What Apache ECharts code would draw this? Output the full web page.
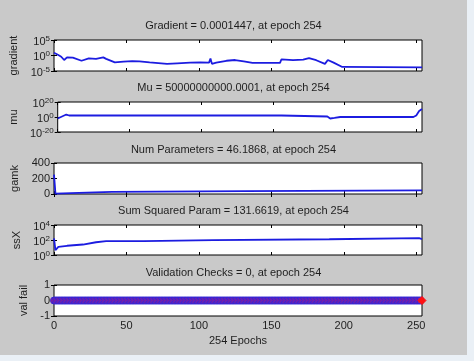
<!DOCTYPE html>
<html><head><meta charset="utf-8">
<script src="https://cdn.jsdelivr.net/npm/echarts@6/dist/echarts.min.js"></script>
<style>html,body{margin:0;padding:0;background:#eaf0f6;}#c{width:467px;height:355px;}</style>
</head><body><div id="c"></div>
<script>
// ---------- data ----------
const titles = [
  'Gradient = 0.0001447, at epoch 254',
  'Mu = 50000000000.0001, at epoch 254',
  'Num Parameters = 46.1868, at epoch 254',
  'Sum Squared Param = 131.6619, at epoch 254',
  'Validation Checks = 0, at epoch 254'
];
const yNames = ['gradient', 'mu', 'gamk', 'ssX', 'val fail'];
const xName = '254 Epochs';
const xTickValues = [0, 50, 100, 150, 200, 250];
const gradTicks = [1e-5, 1, 1e5];
const muTicks = [1e-20, 1, 1e20];
const gamkTicks = [0, 200, 400];
const ssxTicks = [1, 100, 1e4];
const valTicks = [-1, 0, 1];

const gradEpochs = [0,3,5,7,9,13,19,24,29,34,36,42,48,54,59,66,78,85,94,101,107,108,109,112,119,125,131,137,147,156,157,158,165,172,176,181,187,189,193,199,254];
const gradValues = [8,1.4,0.4,0.035,0.25,0.2,0.02,0.12,0.08,0.25,0.08,0.006,0.01,0.015,0.012,0.006,0.002,0.003,0.005,0.006,0.005,0.1,0.002,0.005,0.02,0.035,0.012,0.004,0.004,0.004,0.06,0.02,0.03,0.05,0.15,0.03,0.002,0.035,0.005,0.0002,0.0001447];

const muEpochs = [0,3,6,8,40,41,43,107,108,110,156,157,188,190,193,197,248,249,250,252,254];
const muValues = [0.01,5,2000,100,100,5,100,100,5,100,100,5,5,0.01,0.05,1,1,0.01,100,1e8,5e10];

const gamkEpochs = [0,1,2,17,18,40,41,132,133,254];
const gamkValues = [250,5,15,15,28,28,38,38,46,46.1868];

const ssxEpochs = [0,1,3,9,20,29,36,62,63,110,111,190,191,252,254];
const ssxValues = [160,4.5,12,17,25,50,70,70,95,95,125,125,175,175,131.6619];

const valFail = [
0,0,0,0,0,0,0,0,0,0, 0,0,0,0,0,0,0,0,0,0, 0,0,0,0,0,0,0,0,0,0, 0,0,0,0,0,0,0,0,0,0, 0,0,0,0,0,0,0,0,0,0,
0,0,0,0,0,0,0,0,0,0, 0,0,0,0,0,0,0,0,0,0, 0,0,0,0,0,0,0,0,0,0, 0,0,0,0,0,0,0,0,0,0, 0,0,0,0,0,0,0,0,0,0,
0,0,0,0,0,0,0,0,0,0, 0,0,0,0,0,0,0,0,0,0, 0,0,0,0,0,0,0,0,0,0, 0,0,0,0,0,0,0,0,0,0, 0,0,0,0,0,0,0,0,0,0,
0,0,0,0,0,0,0,0,0,0, 0,0,0,0,0,0,0,0,0,0, 0,0,0,0,0,0,0,0,0,0, 0,0,0,0,0,0,0,0,0,0, 0,0,0,0,0,0,0,0,0,0,
0,0,0,0,0,0,0,0,0,0, 0,0,0,0,0,0,0,0,0,0, 0,0,0,0,0,0,0,0,0,0, 0,0,0,0,0,0,0,0,0,0, 0,0,0,0,0,0,0,0,0,0,
0,0,0,0,0
];

// ---------- layout / style ----------
const FONT = '"Liberation Sans", Arial, sans-serif';
const TXT = '#1e1e1e';
const BLUE = '#1c1ce0';
const layout = [
  {top: 40, h: 31, titleY: 27, nameGap: 27},
  {top: 102, h: 30, titleY: 89, nameGap: 33},
  {top: 163, h: 31, titleY: 151, nameGap: 27},
  {top: 225, h: 30, titleY: 212, nameGap: 26},
  {top: 285, h: 31, titleY: 274, nameGap: 18}
];
const yScales = [
  {type: 'log', min: 1e-5, max: 1e5, ticks: gradTicks},
  {type: 'log', min: 1e-20, max: 1e20, ticks: muTicks},
  {type: 'value', min: 0, max: 400, ticks: gamkTicks},
  {type: 'log', min: 1, max: 1e4, ticks: ssxTicks},
  {type: 'value', min: -1, max: 1, ticks: valTicks}
];

const rich = {
  b: {fontSize: 11, lineHeight: 11, fontFamily: FONT, color: TXT, padding: [3, 0, 0, 0]},
  s: {fontSize: 8, lineHeight: 8, fontFamily: FONT, color: TXT, verticalAlign: 'top'}
};
function logLabel(v) {
  const e = Math.round(Math.log10(v));
  return '{b|10}{s|' + e + '}';
}
// keep log-axis edge ticks just inside the extent (floating point rounding)
function safeTicks(S) {
  if (S.type !== 'log') return S.ticks;
  return S.ticks.map(v => v === S.min ? v * 1.002 : (v === S.max ? v / 1.002 : v));
}

const grids = [], xAxes = [], yAxes = [], titleList = [];
layout.forEach((L, i) => {
  grids.push({left: 54, top: L.top, width: 368, height: L.h, show: true,
    backgroundColor: '#ffffff', borderColor: '#000', borderWidth: 1});
  const isBottom = i === 4;
  const xtick = {show: true, inside: true, length: 3, lineStyle: {color: '#000', width: 1},
    customValues: xTickValues};
  const xBase = {type: 'value', gridIndex: i, min: 0, max: 254,
    axisLine: {show: false}, splitLine: {show: false}, axisTick: xtick};
  xAxes.push(Object.assign({}, xBase, {position: 'bottom',
    axisLabel: {show: isBottom, margin: 4, fontSize: 11, color: TXT, fontFamily: FONT,
      customValues: xTickValues},
    name: isBottom ? xName : '', nameLocation: 'middle', nameGap: 19,
    nameTextStyle: {fontSize: 11, color: TXT, fontFamily: FONT}}));
  xAxes.push(Object.assign({}, xBase, {position: 'top', axisLabel: {show: false}}));
  const S = yScales[i];
  const tv = safeTicks(S);
  const ytick = {show: true, inside: true, length: 3, lineStyle: {color: '#000', width: 1},
    customValues: tv};
  const yBase = {type: S.type, min: S.min, max: S.max, gridIndex: i,
    axisLine: {show: false}, splitLine: {show: false}, axisTick: ytick};
  if (S.type === 'log') yBase.logBase = 10;
  const lbl = {show: true, margin: 4, fontSize: 11, lineHeight: 11, color: TXT, fontFamily: FONT,
    customValues: tv, hideOverlap: false, showMinLabel: true, showMaxLabel: true};
  if (S.type === 'log') { lbl.formatter = logLabel; lbl.rich = rich; }
  yAxes.push(Object.assign({}, yBase, {position: 'left', axisLabel: lbl,
    name: yNames[i], nameLocation: 'middle', nameGap: L.nameGap, nameRotate: 90,
    nameTextStyle: {fontSize: 11, color: TXT, fontFamily: FONT}}));
  yAxes.push(Object.assign({}, yBase, {position: 'right', axisLabel: {show: false}}));
  titleList.push({text: titles[i], left: 'center', top: L.titleY - 7, padding: 0,
    textStyle: {fontSize: 11, fontWeight: 'normal', color: TXT, fontFamily: FONT}});
});

function pairs(xs, ys) { return xs.map((x, k) => [x, ys[k]]); }
const lineSeries = (i, xs, ys) => ({
  type: 'line', xAxisIndex: i * 2, yAxisIndex: i * 2, data: pairs(xs, ys),
  showSymbol: false, symbol: 'none', lineStyle: {color: BLUE, width: 1.8}, animation: false
});

const series = [
  lineSeries(0, gradEpochs, gradValues),
  lineSeries(1, muEpochs, muValues),
  lineSeries(2, gamkEpochs, gamkValues),
  lineSeries(3, ssxEpochs, ssxValues),
  {
    type: 'line', xAxisIndex: 8, yAxisIndex: 8, clip: false, animation: false,
    data: valFail.map((v, k) => k === valFail.length - 1
      ? {value: [k, v], symbol: 'diamond', symbolSize: 8, itemStyle: {color: '#ff1010', borderColor: '#ff1010'}}
      : [k, v]),
    showSymbol: true, showAllSymbol: true, symbol: 'circle', symbolSize: 7,
    itemStyle: {color: '#b01a80', borderColor: '#3326d8', borderWidth: 1},
    lineStyle: {color: BLUE, width: 1}
  }
];

const chart = echarts.init(document.getElementById('c'), null, {renderer: 'canvas'});
chart.setOption({
  backgroundColor: '#c9c9c9',
  animation: false,
  title: titleList,
  grid: grids,
  xAxis: xAxes,
  yAxis: yAxes,
  series: series
});
</script></body></html>
